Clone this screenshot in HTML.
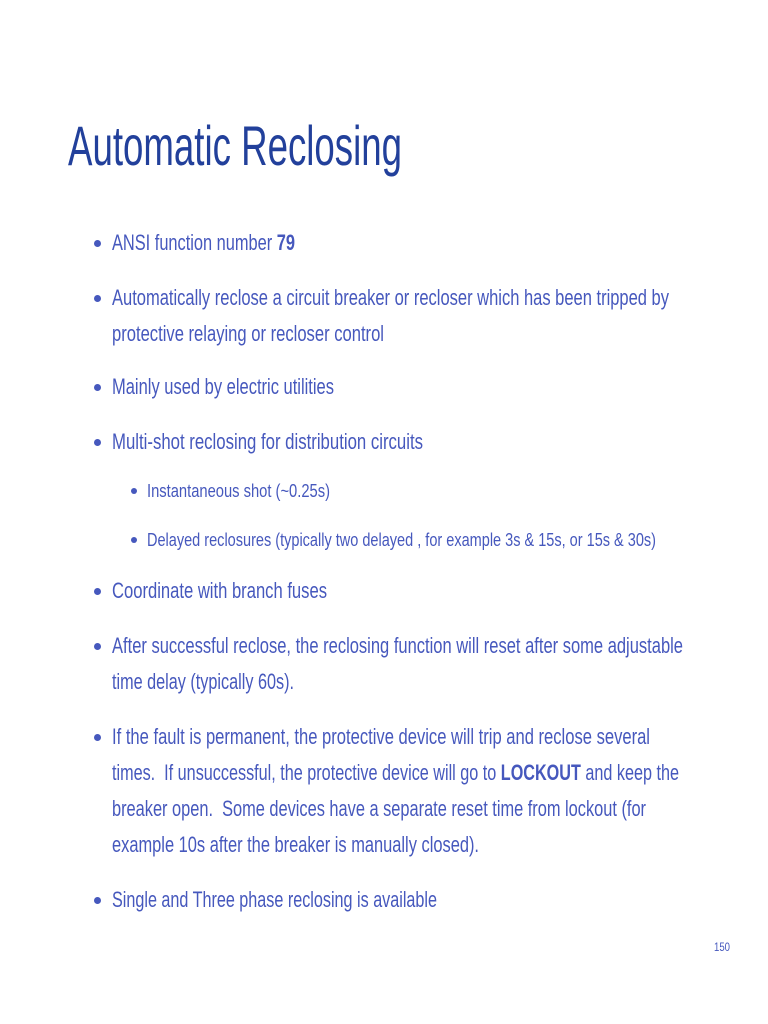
<!DOCTYPE html>
<html><head><meta charset="utf-8"><style>
html,body{margin:0;padding:0;background:#fff;}
body{width:768px;height:1024px;position:relative;overflow:hidden;font-family:"Liberation Sans",sans-serif;}
.l{position:absolute;white-space:nowrap;color:#4658bd;font-size:22px;line-height:1;transform-origin:0 50%;}
.t{color:#22409b;font-size:56px;}
.s{font-size:18px;}
.d{position:absolute;width:7px;height:7px;border-radius:50%;background:#4658bd;}
.ds{width:6px;height:6px;}
b{font-weight:bold;}
</style></head><body>
<div class="l t" data-w="334" style="left:68px;top:118px">Automatic Reclosing</div>

<div class="d" style="left:94px;top:240px"></div>
<div class="l" data-w="183" style="left:112px;top:232px">ANSI function number <b>79</b></div>
<div class="d" style="left:94px;top:295px"></div>
<div class="l" data-w="557" style="left:112px;top:287px">Automatically reclose a circuit breaker or recloser which has been tripped by</div>
<div class="l" data-w="272" style="left:112px;top:323px">protective relaying or recloser control</div>
<div class="d" style="left:94px;top:384px"></div>
<div class="l" data-w="222" style="left:112px;top:376px">Mainly used by electric utilities</div>
<div class="d" style="left:94px;top:439px"></div>
<div class="l" data-w="311" style="left:112px;top:431px">Multi-shot reclosing for distribution circuits</div>
<div class="d ds" style="left:131px;top:488px"></div>
<div class="l s" data-w="183" style="left:147px;top:482px">Instantaneous shot (~0.25s)</div>
<div class="d ds" style="left:131px;top:537px"></div>
<div class="l s" data-w="509" style="left:147px;top:531px">Delayed reclosures (typically two delayed , for example 3s &amp; 15s, or 15s &amp; 30s)</div>
<div class="d" style="left:94px;top:588px"></div>
<div class="l" data-w="215" style="left:112px;top:580px">Coordinate with branch fuses</div>
<div class="d" style="left:94px;top:643px"></div>
<div class="l" data-w="571" style="left:112px;top:635px">After successful reclose, the reclosing function will reset after some adjustable</div>
<div class="l" data-w="182" style="left:112px;top:671px">time delay (typically 60s).</div>
<div class="d" style="left:94px;top:734px"></div>
<div class="l" data-w="538" style="left:112px;top:726px">If the fault is permanent, the protective device will trip and reclose several</div>
<div class="l" data-w="567" style="left:112px;top:762px">times.&nbsp; If unsuccessful, the protective device will go to <b>LOCKOUT</b> and keep the</div>
<div class="l" data-w="534" style="left:112px;top:798px">breaker open.&nbsp; Some devices have a separate reset time from lockout (for</div>
<div class="l" data-w="367" style="left:112px;top:834px">example 10s after the breaker is manually closed).</div>
<div class="d" style="left:94px;top:897px"></div>
<div class="l" data-w="325" style="left:112px;top:889px">Single and Three phase reclosing is available</div>
<div class="l" data-w="16" style="left:714px;top:941px;font-size:12px">150</div>
<script>
document.querySelectorAll('.l').forEach(function(e){
  var w=+e.getAttribute('data-w');var r=e.getBoundingClientRect().width;
  if(r>0)e.style.transform='scaleX('+(w/r)+')';
});
</script>
</body></html>
